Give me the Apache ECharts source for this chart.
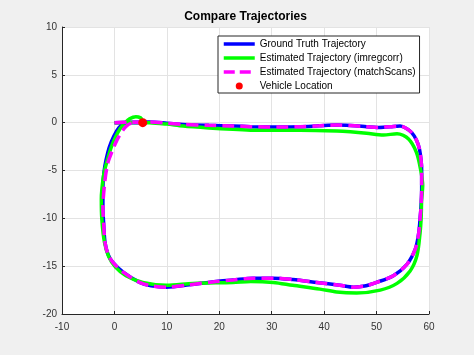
<!DOCTYPE html>
<html>
<head>
<meta charset="utf-8">
<script src="https://cdn.jsdelivr.net/npm/echarts@6/dist/echarts.min.js"></script>
<style>
html,body{margin:0;padding:0;background:#f0f0f0;}
#chart{width:474px;height:355px;}
</style>
</head>
<body>
<div id="chart"></div>
<script>
// ---- Data ----
const titleText = 'Compare Trajectories';
const seriesNames = ['Ground Truth Trajectory', 'Estimated Trajectory (imregcorr)', 'Estimated Trajectory (matchScans)', 'Vehicle Location'];

const gtX = [0, 3, 6.7, 10, 13.1, 18, 22.6, 26, 29, 32, 35.4, 39, 42.4, 45, 48.1, 50.1, 52.6, 54.5, 55.7, 56.7, 57.6, 58.2, 58.6, 58.6, 58.45, 58.3, 58.05, 57.4, 55.8, 53.2, 50, 48, 45.6, 43, 38.6, 34, 30.3, 26.4, 22.6, 19.4, 14.3, 9.9, 7, 4.8, 1.6, -0.3, -1.2, -1.8, -2.1, -2.2, -2.2, -2.0, -1.6, -1.0, -0.1, 0.9, 1.9, 2.9, 4.2, 5.4];
const gtY = [0, 0.05, 0.06, -0.05, -0.18, -0.28, -0.35, -0.42, -0.45, -0.45, -0.42, -0.33, -0.25, -0.3, -0.42, -0.5, -0.42, -0.35, -0.6, -1.04, -1.8, -2.8, -4.9, -7, -9.0, -10, -11.5, -13.2, -14.8, -16, -16.7, -17.05, -17.2, -17.0, -16.7, -16.4, -16.25, -16.25, -16.45, -16.6, -16.95, -17.2, -17.05, -16.7, -15.6, -14.6, -13.8, -12.5, -10.1, -9, -6.8, -5.2, -3.9, -2.6, -1.4, -0.5, -0.07, 0, 0, 0];

const icX = [0, 3, 6.7, 10, 13.1, 18, 22.6, 26, 29, 35.4, 42.4, 45, 48.1, 51.3, 53.9, 56.1, 57.6, 58.4, 58.8, 58.6, 58.5, 58.3, 57.7, 56.4, 53.9, 50.7, 46.2, 42.4, 39.2, 34, 30.3, 26, 22.6, 15, 9.9, 5.4, 2.2, 0.2, -1.1, -1.9, -2.4, -2.5, -2.4, -2.0, -1.3, -0.5, 0.3, 1.1, 1.9, 2.9, 4.1, 5.0, 5.3];
const icY = [0, 0.02, 0, -0.15, -0.35, -0.55, -0.7, -0.78, -0.8, -0.8, -0.87, -0.95, -1.1, -1.3, -1.15, -1.7, -3.1, -4.9, -6.6, -8, -10, -11.5, -13.9, -15.5, -16.8, -17.5, -17.8, -17.7, -17.4, -17.0, -16.7, -16.6, -16.7, -16.8, -17.0, -16.7, -16.0, -15.1, -14.0, -12.5, -10.1, -8, -7, -5.3, -3.8, -2.4, -1.4, -0.6, -0.1, 0.4, 0.63, 0.5, 0.25];

const msX = [0, 3, 6.7, 10, 13.1, 18, 22.6, 26, 29, 32, 35.4, 39, 42.4, 45, 48.1, 50.1, 52.6, 54.5, 55.7, 56.7, 57.6, 58.2, 58.6, 58.6, 58.45, 58.3, 58.05, 57.4, 55.8, 53.2, 50, 48, 45.6, 43, 38.6, 34, 30.3, 26.4, 22.6, 19.4, 14.3, 9.9, 7, 4.8, 1.6, -0.3, -1.2, -1.8, -2.1, -2.2, -1.9, -1.3, -0.3, 0.5, 1.3, 2.2, 3.2, 4.3, 5.4];
const msY = [0, 0.05, 0.06, -0.05, -0.18, -0.28, -0.35, -0.42, -0.45, -0.45, -0.42, -0.33, -0.25, -0.3, -0.42, -0.5, -0.42, -0.35, -0.6, -1.04, -1.8, -2.8, -4.9, -7, -9.0, -10, -11.5, -13.2, -14.8, -16, -16.7, -17.05, -17.2, -17.0, -16.7, -16.4, -16.25, -16.25, -16.45, -16.6, -16.95, -17.2, -17.05, -16.7, -15.6, -14.6, -13.8, -12.5, -10.1, -9, -6.5, -4.3, -2.8, -1.8, -1.04, -0.4, -0.05, 0, 0];

const vehicleX = [5.4];
const vehicleY = [0];

const xMin = -10, xMax = 60, xStep = 10;
const yMin = -20, yMax = 10, yStep = 5;

// ---- Build ----
function zip(xs, ys) { return xs.map((x, i) => [x, ys[i]]); }

const font = '"Liberation Sans", Arial, Helvetica, sans-serif';
const chart = echarts.init(document.getElementById('chart'), null, {renderer: 'canvas'});

const axisCommon = {
  axisLine: {show: true, onZero: false, lineStyle: {color: '#262626', width: 1}},
  axisTick: {show: true, inside: true, length: 3, lineStyle: {color: '#262626'}},
  splitLine: {show: true, lineStyle: {color: '#e3e3e3', width: 1}},
  axisLabel: {color: '#333', fontSize: 10, fontFamily: font}
};

const colors = ['#0000ff', '#00ff00', '#ff00ff', '#ff0000'];
const lineW = 3.5;

chart.setOption({
  backgroundColor: '#f0f0f0',
  animation: false,
  title: {
    text: titleText,
    left: 245.5, textAlign: 'center', top: 11, padding: 0,
    textStyle: {fontSize: 12, fontWeight: 'bold', color: '#000', fontFamily: font}
  },
  grid: {
    left: 62, right: 45, top: 27, bottom: 41,
    show: true, backgroundColor: '#ffffff', borderWidth: 0
  },
  legend: {
    orient: 'vertical',
    left: 218, top: 36,
    padding: [3, 4, 2, 4],
    itemWidth: 31, itemHeight: 7, itemGap: 4,
    backgroundColor: '#ffffff',
    borderColor: '#262626', borderWidth: 1, borderRadius: 0,
    textStyle: {fontSize: 10, color: '#000', fontFamily: font},
    data: [
      {name: seriesNames[0], itemStyle: {opacity: 0}, lineStyle: {width: lineW, color: colors[0]}},
      {name: seriesNames[1], itemStyle: {opacity: 0}, lineStyle: {width: lineW, color: colors[1]}},
      {name: seriesNames[2], itemStyle: {opacity: 0}, lineStyle: {width: lineW, color: colors[2], type: [11, 5]}},
      {name: seriesNames[3], icon: 'circle', itemStyle: {color: colors[3], opacity: 1}}
    ]
  },
  xAxis: Object.assign({
    type: 'value', min: xMin, max: xMax, interval: xStep
  }, axisCommon, {axisLabel: Object.assign({}, axisCommon.axisLabel, {margin: 8})}),
  yAxis: Object.assign({
    type: 'value', min: yMin, max: yMax, interval: yStep
  }, axisCommon, {axisLabel: Object.assign({}, axisCommon.axisLabel, {margin: 5})}),
  series: [
    {
      name: seriesNames[0], type: 'line', data: zip(gtX, gtY),
      showSymbol: false, symbol: 'none', smooth: 0.3,
      lineStyle: {color: colors[0], width: lineW},
      itemStyle: {color: colors[0]}
    },
    {
      name: seriesNames[1], type: 'line', data: zip(icX, icY),
      showSymbol: false, symbol: 'none', smooth: 0.3,
      lineStyle: {color: colors[1], width: lineW},
      itemStyle: {color: colors[1]}
    },
    {
      name: seriesNames[2], type: 'line', data: zip(msX, msY),
      showSymbol: false, symbol: 'none', smooth: 0.3,
      lineStyle: {color: colors[2], width: lineW, type: [12, 6]},
      itemStyle: {color: colors[2]}
    },
    {
      name: seriesNames[3], type: 'scatter', data: zip(vehicleX, vehicleY),
      symbol: 'circle', symbolSize: 9, z: 10,
      itemStyle: {color: colors[3], opacity: 1}
    }
  ]
});
</script>
</body>
</html>
